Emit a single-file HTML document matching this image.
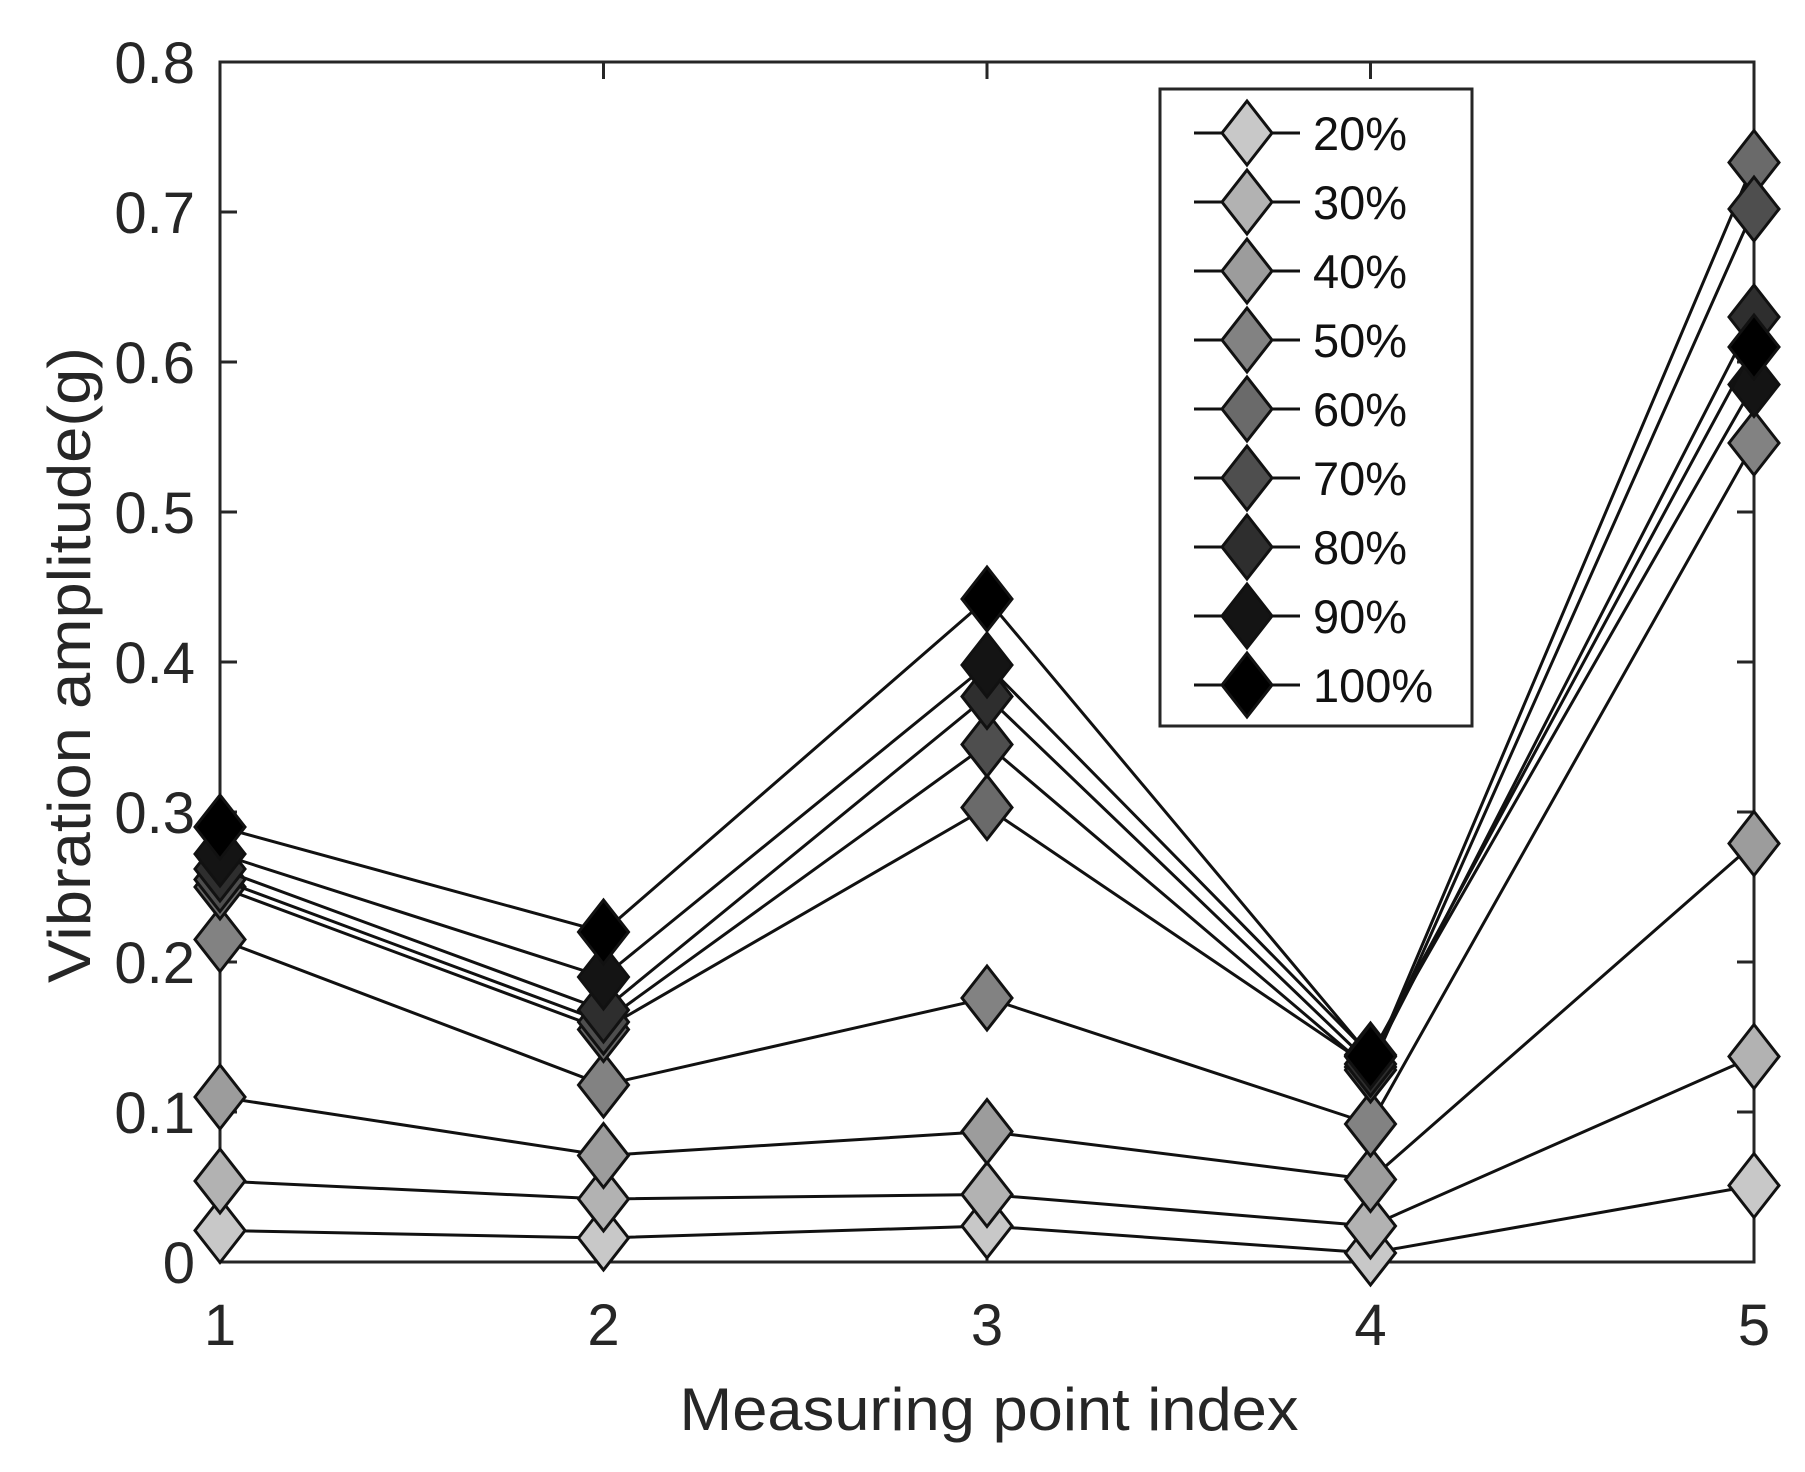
<!DOCTYPE html>
<html><head><meta charset="utf-8"><style>html,body{margin:0;padding:0;background:#fff}svg{display:block}</style></head>
<body>
<svg width="1805" height="1472" viewBox="0 0 1805 1472" xmlns="http://www.w3.org/2000/svg" xmlns:xlink="http://www.w3.org/1999/xlink" font-family="Liberation Sans, Arial, sans-serif">
<defs><path id="d" d="M0,-32L25,0L0,32L-25,0Z" stroke="#111" stroke-width="3"/></defs>
<rect width="1805" height="1472" fill="#fff"/>
<g stroke="#262626" stroke-width="3" fill="none">
<rect x="220" y="62" width="1534" height="1200"/>
<path d="M220 1112h17M220 962h17M220 812h17M220 662h17M220 512h17M220 362h17M220 212h17M1754 1112h-17M1754 962h-17M1754 812h-17M1754 662h-17M1754 512h-17M1754 362h-17M1754 212h-17M603.5 1262v-17M987 1262v-17M1370.5 1262v-17M603.5 62v17M987 62v17M1370.5 62v17"/>
</g>
<g fill="none" stroke="#111" stroke-width="3">
<polyline points="220,1230.5 603.5,1238 987,1226 1370.5,1253 1754,1185.5"/>
</g>
<g fill="#c8c8c8"><use xlink:href="#d" x="220" y="1230.5"/><use xlink:href="#d" x="603.5" y="1238"/><use xlink:href="#d" x="987" y="1226"/><use xlink:href="#d" x="1370.5" y="1253"/><use xlink:href="#d" x="1754" y="1185.5"/></g>
<polyline fill="none" stroke="#111" stroke-width="3" points="220,1181 603.5,1199 987,1194.5 1370.5,1226 1754,1056.5"/>
<g fill="#b2b2b2"><use xlink:href="#d" x="220" y="1181"/><use xlink:href="#d" x="603.5" y="1199"/><use xlink:href="#d" x="987" y="1194.5"/><use xlink:href="#d" x="1370.5" y="1226"/><use xlink:href="#d" x="1754" y="1056.5"/></g>
<polyline fill="none" stroke="#111" stroke-width="3" points="220,1097 603.5,1155.5 987,1131.5 1370.5,1179.5 1754,843.5"/>
<g fill="#9c9c9c"><use xlink:href="#d" x="220" y="1097"/><use xlink:href="#d" x="603.5" y="1155.5"/><use xlink:href="#d" x="987" y="1131.5"/><use xlink:href="#d" x="1370.5" y="1179.5"/><use xlink:href="#d" x="1754" y="843.5"/></g>
<polyline fill="none" stroke="#111" stroke-width="3" points="220,939.5 603.5,1085 987,998 1370.5,1124 1754,443"/>
<g fill="#828282"><use xlink:href="#d" x="220" y="939.5"/><use xlink:href="#d" x="603.5" y="1085"/><use xlink:href="#d" x="987" y="998"/><use xlink:href="#d" x="1370.5" y="1124"/><use xlink:href="#d" x="1754" y="443"/></g>
<polyline fill="none" stroke="#111" stroke-width="3" points="220,887 603.5,1029.5 987,807.5 1370.5,1067 1754,162.5"/>
<g fill="#6a6a6a"><use xlink:href="#d" x="220" y="887"/><use xlink:href="#d" x="603.5" y="1029.5"/><use xlink:href="#d" x="987" y="807.5"/><use xlink:href="#d" x="1370.5" y="1067"/><use xlink:href="#d" x="1754" y="162.5"/></g>
<polyline fill="none" stroke="#111" stroke-width="3" points="220,879.5 603.5,1022 987,744.5 1370.5,1070 1754,209"/>
<g fill="#4e4e4e"><use xlink:href="#d" x="220" y="879.5"/><use xlink:href="#d" x="603.5" y="1022"/><use xlink:href="#d" x="987" y="744.5"/><use xlink:href="#d" x="1370.5" y="1070"/><use xlink:href="#d" x="1754" y="209"/></g>
<polyline fill="none" stroke="#111" stroke-width="3" points="220,869 603.5,1010 987,696.5 1370.5,1064 1754,317"/>
<g fill="#2e2e2e"><use xlink:href="#d" x="220" y="869"/><use xlink:href="#d" x="603.5" y="1010"/><use xlink:href="#d" x="987" y="696.5"/><use xlink:href="#d" x="1370.5" y="1064"/><use xlink:href="#d" x="1754" y="317"/></g>
<polyline fill="none" stroke="#111" stroke-width="3" points="220,854 603.5,977 987,665 1370.5,1055 1754,384.5"/>
<g fill="#141414"><use xlink:href="#d" x="220" y="854"/><use xlink:href="#d" x="603.5" y="977"/><use xlink:href="#d" x="987" y="665"/><use xlink:href="#d" x="1370.5" y="1055"/><use xlink:href="#d" x="1754" y="384.5"/></g>
<polyline fill="none" stroke="#111" stroke-width="3" points="220,827 603.5,932 987,599 1370.5,1056.5 1754,347"/>
<g fill="#000"><use xlink:href="#d" x="220" y="827"/><use xlink:href="#d" x="603.5" y="932"/><use xlink:href="#d" x="987" y="599"/><use xlink:href="#d" x="1370.5" y="1056.5"/><use xlink:href="#d" x="1754" y="347"/></g>

<rect x="1160" y="89" width="312" height="637" fill="#fff" stroke="#262626" stroke-width="3"/>
<path d="M1194 133h106M1194 202h106M1194 271h106M1194 340h106M1194 409h106M1194 478h106M1194 547h106M1194 616h106M1194 685h106" stroke="#111" stroke-width="3"/>
<use xlink:href="#d" x="1247" y="133" fill="#c8c8c8"/>
<use xlink:href="#d" x="1247" y="202" fill="#b2b2b2"/>
<use xlink:href="#d" x="1247" y="271" fill="#9c9c9c"/>
<use xlink:href="#d" x="1247" y="340" fill="#828282"/>
<use xlink:href="#d" x="1247" y="409" fill="#6a6a6a"/>
<use xlink:href="#d" x="1247" y="478" fill="#4e4e4e"/>
<use xlink:href="#d" x="1247" y="547" fill="#2e2e2e"/>
<use xlink:href="#d" x="1247" y="616" fill="#141414"/>
<use xlink:href="#d" x="1247" y="685" fill="#000"/>
<g font-size="47" fill="#111">
<text x="1313" y="150">20%</text>
<text x="1313" y="219">30%</text>
<text x="1313" y="288">40%</text>
<text x="1313" y="357">50%</text>
<text x="1313" y="426">60%</text>
<text x="1313" y="495">70%</text>
<text x="1313" y="564">80%</text>
<text x="1313" y="633">90%</text>
<text x="1313" y="702">100%</text>
</g>

<g fill="#262626" font-size="58">
<text x="195" y="83" text-anchor="end">0.8</text>
<text x="195" y="233" text-anchor="end">0.7</text>
<text x="195" y="383" text-anchor="end">0.6</text>
<text x="195" y="533" text-anchor="end">0.5</text>
<text x="195" y="683" text-anchor="end">0.4</text>
<text x="195" y="833" text-anchor="end">0.3</text>
<text x="195" y="983" text-anchor="end">0.2</text>
<text x="195" y="1133" text-anchor="end">0.1</text>
<text x="195" y="1283" text-anchor="end">0</text>
<text x="220" y="1345" text-anchor="middle">1</text>
<text x="603.5" y="1345" text-anchor="middle">2</text>
<text x="987" y="1345" text-anchor="middle">3</text>
<text x="1370.5" y="1345" text-anchor="middle">4</text>
<text x="1754" y="1345" text-anchor="middle">5</text>
<text x="989" y="1430" text-anchor="middle" font-size="60" textLength="619" lengthAdjust="spacingAndGlyphs">Measuring point index</text>
<text transform="translate(90,665) rotate(-90)" text-anchor="middle" font-size="60" textLength="636" lengthAdjust="spacingAndGlyphs">Vibration amplitude(g)</text>
</g>
</svg>
</body></html>
